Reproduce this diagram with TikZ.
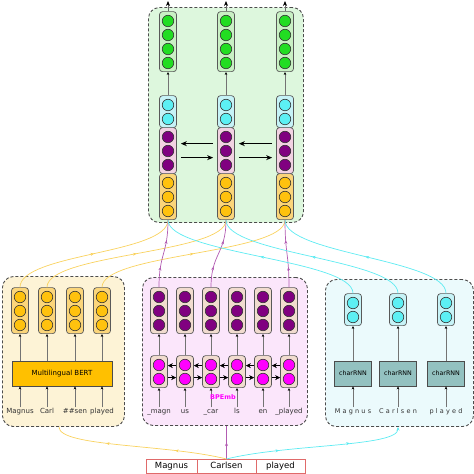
\documentclass[tikz,border=0pt]{standalone}
\usepackage{fontspec}
\setmainfont{DejaVu Sans}
\newfontfamily\spacedfont[LetterSpace=34]{DejaVu Sans}
\usepackage{tikz}
\usetikzlibrary{positioning}
\usetikzlibrary{calc}
\usetikzlibrary{arrows.meta}
\usetikzlibrary{decorations.markings}

\definecolor{bggreen}{HTML}{DDF7DD}
\definecolor{bgyellow}{HTML}{FDF3D6}
\definecolor{bgpink}{HTML}{FBE6FB}
\definecolor{bgcyan}{HTML}{EBFAFC}
\definecolor{stgreen}{HTML}{C9F0C4}
\definecolor{stcyan}{HTML}{C6F3F7}
\definecolor{stpink}{HTML}{F2D2E2}
\definecolor{styellow}{HTML}{FBD57A}
\definecolor{stbeige}{HTML}{F1DCCF}
\definecolor{dtgreen}{HTML}{22DD22}
\definecolor{dtcyan}{HTML}{5CF0F4}
\definecolor{dtpurple}{HTML}{800080}
\definecolor{dtyellow}{HTML}{FFC20E}
\definecolor{dtmagenta}{HTML}{FF00FF}
\definecolor{bertfill}{HTML}{FFC000}
\definecolor{rnnfill}{HTML}{93C1C0}
\definecolor{lnyellow}{HTML}{F9D25E}
\definecolor{lncyan}{HTML}{5DEBF2}
\definecolor{lnpurple}{HTML}{B25CB2}
\definecolor{tokred}{HTML}{E06A6A}

% a rounded column of n dots, placed by its bottom centre
\newcommand{\cellstack}[5]{%
  \node[stack box, fill=#4, minimum height={#3*14+4}, anchor=south] (#1) at (#2) {};
  \foreach \k in {1,...,#3}
    \node[cell, fill=#5] (#1-\k) at ($(#1.south)+(0,\k*14-5)$) {};
}

\begin{document}
\begin{tikzpicture}[x=1pt,y=1pt,
	group box/.style={draw=black!70, line width=0.9pt, dash pattern=on 3pt off 2pt, rounded corners=11pt},
	stack box/.style={draw=black!65, line width=0.7pt, rounded corners=3pt, minimum width=17pt, inner sep=0pt},
	cell/.style={circle, draw=black!80, line width=0.6pt, minimum size=11.5pt, inner sep=0pt},
	up arrow/.style={draw=black!55, line width=0.6pt, -{Stealth[length=3pt,width=2.6pt,color=black]}},
	top arrow/.style={draw=black!60, line width=0.7pt, -{Stealth[length=5pt,width=4pt,color=black]}},
	lstm arrow/.style={draw=black, line width=1pt, -{Stealth[length=6pt,width=5pt]}},
	emb arrow/.style={draw=black, line width=0.5pt, -{Stealth[length=5pt,width=5pt]}},
	word/.style={font=\fontsize{7}{8}\selectfont, text=black!80, inner sep=1pt, text height=5.5pt, text depth=1.5pt},
	tok/.style={draw=tokred, line width=0.8pt, minimum height=14pt, inner sep=0pt, outer sep=0pt,
		font=\fontsize{8.5}{9}\selectfont, text height=6.5pt, text depth=2pt},
	rnn/.style={draw=black!70, fill=rnnfill, line width=0.7pt, minimum width=37pt, minimum height=25pt,
		inner sep=0pt, font=\fontsize{6.3}{7}\selectfont},
	flow/.style={line width=0.7pt, postaction={decorate}, decoration={markings,
		mark=at position 0.5 with {\arrow{Stealth[length=3.5pt,width=3pt]}}}},
	flow2/.style={line width=0.7pt, postaction={decorate}, decoration={markings,
		mark=at position 0.3 with {\arrow{Stealth[length=3.5pt,width=3pt]}},
		mark=at position 0.7 with {\arrow{Stealth[length=3.5pt,width=3pt]}}}}]
	
	\useasboundingbox (0,0) rectangle (474,474);
	
	% tagger on top
	\node[group box, fill=bggreen, minimum width=155, minimum height=215, anchor=south west] (enc) at (148,251) {};
	\foreach \i/\x in {1/168,2/226,3/285}{
		\cellstack{y\i}{\x,254}{3}{styellow}{dtyellow}
		\cellstack{p\i}{\x,300}{3}{stpink}{dtpurple}
		\cellstack{c\i}{\x,346}{2}{stcyan}{dtcyan}
		\cellstack{g\i}{\x,402}{4}{stgreen}{dtgreen}
		\coordinate (out\i) at (\x,473);
		\draw[up arrow] (c\i) -- (g\i);
		\draw[top arrow] (g\i) -- (out\i);
	}
	\foreach \a/\b in {1/2,2/3}{
		\draw[lstm arrow] ($(p\b.west)+(-4,7)$) -- ($(p\a.east)+(4,7)$);
		\draw[lstm arrow] ($(p\a.east)+(4,-7)$) -- ($(p\b.west)+(-4,-7)$);
	}
	
	% Multilingual BERT
	\node[group box, fill=bgyellow, minimum width=122, minimum height=150, anchor=south west] (bertbox) at (2,47) {};
	\node[draw=black!70, fill=bertfill, line width=0.7pt, minimum width=100pt, minimum height=25pt,
		font=\fontsize{7}{8}\selectfont] (bert) at (62,100.5) {Multilingual BERT};
	\foreach \i/\x/\w in {1/20/Magnus,2/47/Carl,3/75/\#\#sen,4/102/played}{
		\cellstack{b\i}{\x,140}{3}{styellow}{dtyellow}
		\node[word] (bw\i) at (\x,62) {\w};
		\draw[up arrow] (bw\i) -- (bw\i |- bert.south);
		\draw[up arrow] (bw\i |- bert.north) -- (b\i);
	}
	
	% BPEmb
	\node[group box, fill=bgpink, minimum width=165, minimum height=148, anchor=south west] (bpebox) at (142,48) {};
	\foreach \i/\x/\w in {1/159/\_magn,2/185/us,3/211/\_car,4/237/ls,5/263/en,6/289/\_played}{
		\cellstack{m\i}{\x,140}{3}{stbeige}{dtpurple}
		\cellstack{e\i}{\x,86}{2}{stbeige}{dtmagenta}
		\node[word] (ew\i) at (\x,62) {\w};
		\draw[up arrow] (ew\i) -- (e\i);
		\draw[up arrow] (e\i) -- (m\i);
	}
	\foreach \a/\b in {1/2,2/3,3/4,4/5,5/6}{
		\draw[emb arrow] ($(e\b.west)+(0,6)$) -- ($(e\a.east)+(0,6)$);
		\draw[emb arrow] ($(e\a.east)+(0,-6)$) -- ($(e\b.west)+(0,-6)$);
	}
	\node[font=\bfseries\fontsize{6.5}{7}\selectfont, text=dtmagenta, inner sep=0pt] (bpemb) at (223,77) {BPEmb};
	
	% charRNN
	\node[group box, fill=bgcyan, minimum width=148, minimum height=147, anchor=south west] (charbox) at (325,47) {};
	\foreach \i/\x/\w in {1/353/Magnus,2/398/Carlsen,3/446/played}{
		\cellstack{r\i}{\x,148}{2}{stcyan}{dtcyan}
		\node[rnn] (rnn\i) at (\x,100.5) {charRNN};
		\node[word, font=\spacedfont\fontsize{6.5}{8}\selectfont] (rw\i) at (\x,62) {\w};
		\draw[up arrow] (rw\i) -- (rnn\i);
		\draw[up arrow] (rnn\i) -- (r\i);
	}
	
	% input sentence
	\node[tok, minimum width=51pt] (t1) at (171.5,8) {Magnus};
	\node[tok, minimum width=59pt, right=0pt of t1] (t2) {Carlsen};
	\node[tok, minimum width=49pt, right=0pt of t2] (t3) {played};
	\coordinate (bertin) at (59,47);
	\coordinate (charin) at (398,47);
	\draw[lnpurple, flow] (t2) -- (t2 |- bpebox.south);
	\draw[lnyellow, flow2] (t2.north) .. controls +(-60,15) and +(0,-20) .. (bertin);
	\draw[lncyan, flow2, -{Stealth[length=3.5pt,width=3pt]}] (t2.north) .. controls +(60,15) and +(0,-20) .. (charin);
	
	% into the tagger
	\foreach \a/\b in {1/1,2/2,4/3}
		\draw[lnyellow, flow] (b\a.north) .. controls +(0,34) and +(0,-34) .. (y\b.south);
	\foreach \a/\b in {1/1,3/2,6/3}
		\draw[lnpurple, flow2] (m\a.north) .. controls +(0,34) and +(0,-34) .. (y\b.south);
	\foreach \a/\b in {1/1,2/2,3/3}
		\draw[lncyan, flow] (r\a.north) .. controls +(0,34) and +(0,-34) .. (y\b.south);
\end{tikzpicture}
\end{document}
